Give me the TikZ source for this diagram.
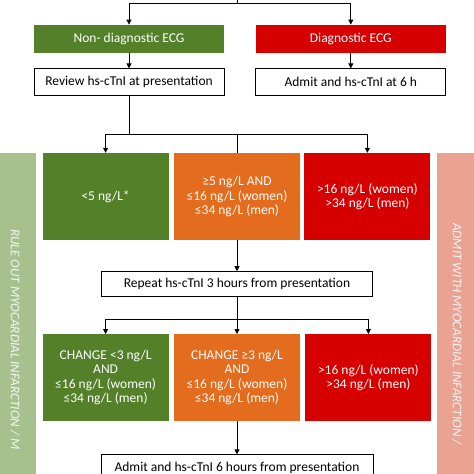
\documentclass[tikz,border=0pt]{standalone}
\usepackage{fontspec}
\setmainfont{Carlito}
\usepackage{tikz}
\usetikzlibrary{arrows.meta, positioning, calc}
\definecolor{ecggreen}{RGB}{84,128,42}
\definecolor{ecgorange}{RGB}{228,108,30}
\definecolor{ecgred}{RGB}{214,0,0}
\definecolor{barlgreen}{RGB}{166,192,142}
\definecolor{barsalmon}{RGB}{234,162,146}
\definecolor{mydark}{RGB}{0,0,0}
\tikzset{
  cbox/.style={rectangle, draw=none, text=white, align=center,
    minimum width=126pt, minimum height=87pt, inner sep=0pt,
    font=\fontsize{13.5}{14.5}\selectfont},
  hbox/.style={rectangle, draw=mydark, fill=white, align=center,
    minimum width=190pt, minimum height=27pt, inner sep=0pt,
    font=\fontsize{13.5}{14}\selectfont, line width=0.8pt},
  arrow/.style={-{Triangle[width=5pt,length=5pt]}, line width=0.8pt, color=mydark},
  line/.style={line width=0.8pt, color=mydark}
}

\begin{document}
\begin{tikzpicture}[
  x=1pt, y=1pt,
  bartext/.style={rotate=-90, anchor=west, text=white!92!gray,
    font=\fontsize{13.2}{14}\selectfont\itshape, inner sep=0pt}
]
  \useasboundingbox (0,0) rectangle (474,-474);
  \clip (0,0) rectangle (474,-474);

  % side bars
  \fill[barlgreen] (0,-153) rectangle (36,-480);
  \fill[barsalmon] (437,-153) rectangle (480,-480);
  \node[bartext] (ruleout) at (15,-229) {RULE OUT MYOCARDIAL INFARCTION / M};
  \node[bartext] (admitmi) at (457,-223) {ADMIT WITH MYOCARDIAL INFARCTION /};

  % ECG
  \coordinate (start) at (237,0);
  \node[hbox, draw=none, fill=ecggreen, text=white, minimum height=28pt] (ndecg) at (129,-39) {Non- diagnostic ECG};
  \node[hbox, draw=none, fill=ecgred, text=white, minimum height=28pt, right=31pt of ndecg] (decg) {Diagnostic ECG};
  \node[hbox, below=15pt of ndecg] (review) {Review hs-cTnI at presentation};
  \node[hbox, below=15pt of decg] (admitsix) {Admit and hs-cTnI at 6 h};

  % first test
  \node[cbox, fill=ecgorange] (midone) at (237,-196.5) {≥5 ng/L AND\\≤16 ng/L (women)\\≤34 ng/L (men)};
  \node[cbox, fill=ecggreen, left=5pt of midone] (lowone) {<5 ng/L*};
  \node[cbox, fill=ecgred, right=4pt of midone] (highone) {>16 ng/L (women)\\>34 ng/L (men)};

  \node[hbox, minimum width=271pt, minimum height=25pt, below=31pt of midone] (repeat) {Repeat hs-cTnI 3 hours from presentation};

  % second test
  \node[cbox, fill=ecgorange, below=37pt of repeat] (midtwo) {CHANGE ≥3 ng/L\\AND\\≤16 ng/L (women)\\≤34 ng/L (men)};
  \node[cbox, fill=ecggreen, left=5pt of midtwo] (lowtwo) {CHANGE <3 ng/L\\AND\\≤16 ng/L (women)\\≤34 ng/L (men)};
  \node[cbox, fill=ecgred, right=5pt of midtwo] (hightwo) {>16 ng/L (women)\\>34 ng/L (men)};

  \node[hbox, minimum width=272pt, minimum height=26pt, below=33pt of midtwo] (admitfinal) {Admit and hs-cTnI 6 hours from presentation};

  % connectors
  \draw[line] (start) -- ++(0,-3) coordinate (splitecg);
  \draw[arrow] (splitecg) -| (ndecg.north);
  \draw[arrow] (splitecg) -| (decg.north);
  \draw[arrow] (ndecg) -- (review);
  \draw[arrow] (decg) -- (admitsix);

  \draw[line] (review.south) -- ++(0,-38) coordinate (splitone);
  \draw[arrow] (splitone) -| (lowone.north);
  \draw[arrow] (splitone) -| (highone.north);
  \draw[line] (splitone) -| (midone.north);
  \draw[arrow] (midone) -- (repeat);

  \draw[line] (repeat.south) -- ++(0,-22) coordinate (splittwo);
  \draw[arrow] (splittwo) -| (lowtwo.north);
  \draw[arrow] (splittwo) -| (hightwo.north);
  \draw[arrow] (splittwo) -- (midtwo.north);
  \draw[arrow] (midtwo) -- (admitfinal);
\end{tikzpicture}
\end{document}
